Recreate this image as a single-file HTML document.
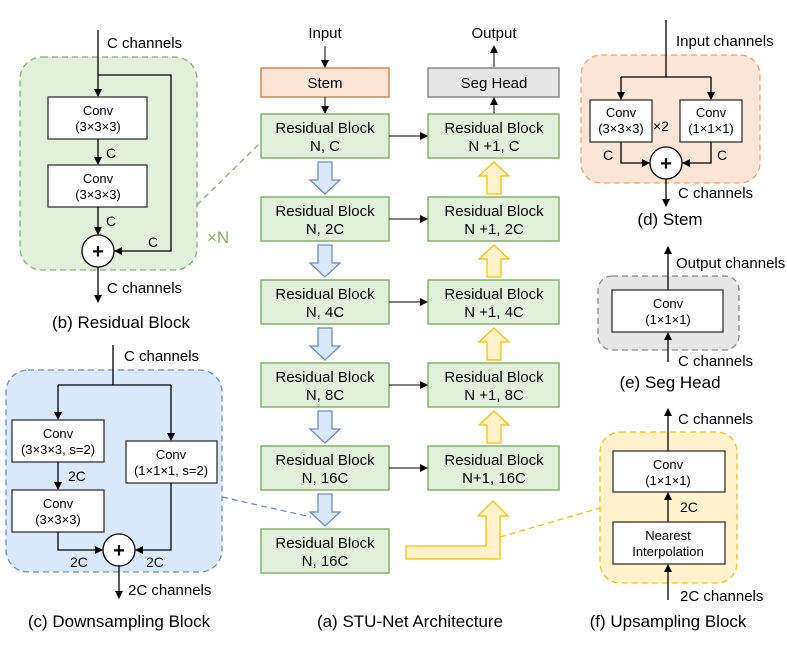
<!DOCTYPE html>
<html><head><meta charset="utf-8"><style>
html,body{margin:0;padding:0;background:#fff;}
svg{display:block;font-family:"Liberation Sans",Arial,sans-serif;}
</style></head><body>
<svg width="787" height="645" viewBox="0 0 787 645" xmlns="http://www.w3.org/2000/svg">
<defs>
<marker id="ah" markerWidth="8" markerHeight="8" refX="7" refY="4" orient="auto" markerUnits="userSpaceOnUse"><path d="M0,0 L8,4 L0,8 z" fill="#000"/></marker>
</defs>

<!-- (b) Residual Block -->
<rect x="20" y="57" width="177" height="213" rx="22" fill="#e2efda" stroke="#82b366" stroke-dasharray="6,4" stroke-width="1.3"/>
<line x1="98" y1="30" x2="98" y2="96" stroke="#000" stroke-width="1.3" marker-end="url(#ah)"/>
<polyline points="98,75 171,75 171,251 115,251" fill="none" stroke="#000" stroke-width="1.3" marker-end="url(#ah)"/>
<rect x="48" y="97" width="99" height="42" fill="#fff" stroke="#333" stroke-width="1.3"/>
<text x="98" y="115" font-size="13" text-anchor="middle">Conv</text>
<text x="98" y="131" font-size="13" text-anchor="middle">(3×3×3)</text>
<line x1="98" y1="139" x2="98" y2="164" stroke="#000" stroke-width="1.3" marker-end="url(#ah)"/>
<text x="106" y="158" font-size="14">C</text>
<rect x="48" y="165" width="99" height="42" fill="#fff" stroke="#333" stroke-width="1.3"/>
<text x="98" y="183" font-size="13" text-anchor="middle">Conv</text>
<text x="98" y="199" font-size="13" text-anchor="middle">(3×3×3)</text>
<line x1="98" y1="207" x2="98" y2="234" stroke="#000" stroke-width="1.3" marker-end="url(#ah)"/>
<text x="106" y="226" font-size="14">C</text>
<text x="148" y="247" font-size="14">C</text>
<circle cx="98" cy="251" r="16" fill="#fff" stroke="#000" stroke-width="1.3"/>
<text x="98" y="258" font-size="20" text-anchor="middle" font-weight="bold">+</text>
<line x1="98" y1="267" x2="98" y2="302" stroke="#000" stroke-width="1.3" marker-end="url(#ah)"/>
<text x="107" y="48" font-size="15">C channels</text>
<text x="107" y="293" font-size="15">C channels</text>
<text x="207" y="243" font-size="17" fill="#82b366">×N</text>
<text x="121" y="328" font-size="17" text-anchor="middle">(b) Residual Block</text>
<line x1="197" y1="205" x2="261" y2="142" stroke="#82b366" stroke-width="1.3" stroke-dasharray="6,4"/>

<!-- (c) Downsampling -->
<rect x="6" y="370" width="216" height="202" rx="22" fill="#dae8fc" stroke="#6c8ebf" stroke-dasharray="6,4" stroke-width="1.3"/>
<line x1="113" y1="345" x2="113" y2="385" stroke="#000" stroke-width="1.3"/>
<polyline points="58,385 171,385" fill="none" stroke="#000" stroke-width="1.3"/>
<line x1="58" y1="385" x2="58" y2="419" stroke="#000" stroke-width="1.3" marker-end="url(#ah)"/>
<line x1="171" y1="385" x2="171" y2="440" stroke="#000" stroke-width="1.3" marker-end="url(#ah)"/>
<rect x="12" y="420" width="92" height="42" fill="#fff" stroke="#333" stroke-width="1.3"/>
<text x="58" y="438" font-size="13" text-anchor="middle">Conv</text>
<text x="58" y="454" font-size="13" text-anchor="middle">(3×3×3, s=2)</text>
<line x1="58" y1="462" x2="58" y2="489" stroke="#000" stroke-width="1.3" marker-end="url(#ah)"/>
<text x="68" y="481" font-size="14">2C</text>
<rect x="12" y="490" width="92" height="42" fill="#fff" stroke="#333" stroke-width="1.3"/>
<text x="58" y="508" font-size="13" text-anchor="middle">Conv</text>
<text x="58" y="524" font-size="13" text-anchor="middle">(3×3×3)</text>
<rect x="126" y="441" width="91" height="42" fill="#fff" stroke="#333" stroke-width="1.3"/>
<text x="171" y="459" font-size="13" text-anchor="middle">Conv</text>
<text x="171" y="475" font-size="13" text-anchor="middle">(1×1×1, s=2)</text>
<polyline points="58,532 58,550 102,550" fill="none" stroke="#000" stroke-width="1.3" marker-end="url(#ah)"/>
<polyline points="171,483 171,550 136,550" fill="none" stroke="#000" stroke-width="1.3" marker-end="url(#ah)"/>
<circle cx="119" cy="550" r="16" fill="#fff" stroke="#000" stroke-width="1.3"/>
<text x="119" y="557" font-size="20" text-anchor="middle" font-weight="bold">+</text>
<text x="70" y="567" font-size="14">2C</text>
<text x="146" y="567" font-size="14">2C</text>
<line x1="119" y1="566" x2="119" y2="598" stroke="#000" stroke-width="1.3" marker-end="url(#ah)"/>
<text x="124" y="361" font-size="15">C channels</text>
<text x="128" y="595" font-size="15">2C channels</text>
<text x="119" y="627" font-size="17" text-anchor="middle">(c) Downsampling Block</text>
<line x1="222" y1="497" x2="311" y2="517" stroke="#6c8ebf" stroke-width="1.3" stroke-dasharray="6,4"/>

<!-- (a) main -->
<text x="325" y="38" font-size="15" text-anchor="middle">Input</text>
<line x1="325" y1="46" x2="325" y2="67" stroke="#000" stroke-width="1" marker-end="url(#ah)"/>
<rect x="261" y="68" width="128" height="29" fill="#fae5d6" stroke="#d6864a" stroke-width="1.5"/>
<text x="325" y="88" font-size="15" text-anchor="middle">Stem</text>
<line x1="325" y1="97" x2="325" y2="113" stroke="#000" stroke-width="1" marker-end="url(#ah)"/>
<text x="494" y="38" font-size="15" text-anchor="middle">Output</text>
<line x1="494" y1="67" x2="494" y2="46" stroke="#000" stroke-width="1" marker-end="url(#ah)"/>
<rect x="428" y="68" width="131" height="29" fill="#e6e6e6" stroke="#888" stroke-width="1.5"/>
<text x="494" y="88" font-size="15" text-anchor="middle">Seg Head</text>
<line x1="494" y1="114" x2="494" y2="98" stroke="#000" stroke-width="1" marker-end="url(#ah)"/>

<g font-size="15" text-anchor="middle">
<rect x="261" y="114" width="128" height="44" fill="#e2efda" stroke="#82b366" stroke-width="1.5"/>
<text x="325" y="133">Residual Block</text><text x="325" y="151">N, C</text>
<rect x="261" y="197" width="128" height="44" fill="#e2efda" stroke="#82b366" stroke-width="1.5"/>
<text x="325" y="216">Residual Block</text><text x="325" y="234">N, 2C</text>
<rect x="261" y="280" width="128" height="44" fill="#e2efda" stroke="#82b366" stroke-width="1.5"/>
<text x="325" y="299">Residual Block</text><text x="325" y="317">N, 4C</text>
<rect x="261" y="363" width="128" height="44" fill="#e2efda" stroke="#82b366" stroke-width="1.5"/>
<text x="325" y="382">Residual Block</text><text x="325" y="400">N, 8C</text>
<rect x="261" y="446" width="128" height="44" fill="#e2efda" stroke="#82b366" stroke-width="1.5"/>
<text x="325" y="465">Residual Block</text><text x="325" y="483">N, 16C</text>
<rect x="261" y="529" width="128" height="44" fill="#e2efda" stroke="#82b366" stroke-width="1.5"/>
<text x="325" y="548">Residual Block</text><text x="325" y="566">N, 16C</text>

<rect x="428" y="114" width="131" height="44" fill="#e2efda" stroke="#82b366" stroke-width="1.5"/>
<text x="494" y="133">Residual Block</text><text x="494" y="151">N +1, C</text>
<rect x="428" y="197" width="131" height="44" fill="#e2efda" stroke="#82b366" stroke-width="1.5"/>
<text x="494" y="216">Residual Block</text><text x="494" y="234">N +1, 2C</text>
<rect x="428" y="280" width="131" height="44" fill="#e2efda" stroke="#82b366" stroke-width="1.5"/>
<text x="494" y="299">Residual Block</text><text x="494" y="317">N +1, 4C</text>
<rect x="428" y="363" width="131" height="44" fill="#e2efda" stroke="#82b366" stroke-width="1.5"/>
<text x="494" y="382">Residual Block</text><text x="494" y="400">N +1, 8C</text>
<rect x="428" y="446" width="131" height="44" fill="#e2efda" stroke="#82b366" stroke-width="1.5"/>
<text x="494" y="465">Residual Block</text><text x="494" y="483">N+1, 16C</text>
</g>
<g stroke="#000" stroke-width="1">
<line x1="389" y1="136" x2="427" y2="136" marker-end="url(#ah)"/>
<line x1="389" y1="219" x2="427" y2="219" marker-end="url(#ah)"/>
<line x1="389" y1="302" x2="427" y2="302" marker-end="url(#ah)"/>
<line x1="389" y1="385" x2="427" y2="385" marker-end="url(#ah)"/>
<line x1="389" y1="468" x2="427" y2="468" marker-end="url(#ah)"/>
</g>
<g fill="#dae8fc" stroke="#6c8ebf" stroke-width="1.3">
<path d="M318,162 H332 V180 H340 L325,194 L310,180 H318 Z"/>
<path d="M318,245 H332 V263 H340 L325,277 L310,263 H318 Z"/>
<path d="M318,328 H332 V346 H340 L325,360 L310,346 H318 Z"/>
<path d="M318,411 H332 V429 H340 L325,443 L310,429 H318 Z"/>
<path d="M318,494 H332 V512 H340 L325,526 L310,512 H318 Z"/>
</g>
<g fill="#fff2cc" stroke="#f5c000" stroke-width="1.3">
<path d="M487,194 H501 V176 H509 L494,162 L479,176 H487 Z"/>
<path d="M487,277 H501 V259 H509 L494,245 L479,259 H487 Z"/>
<path d="M487,360 H501 V342 H509 L494,328 L479,342 H487 Z"/>
<path d="M487,443 H501 V425 H509 L494,411 L479,425 H487 Z"/>
<path d="M406,546 H486 V516 H478 L493,501 L508,516 H500 V559 H406 Z"/>
</g>
<line x1="500" y1="537" x2="600" y2="508" stroke="#f5c000" stroke-width="1.3" stroke-dasharray="6,4"/>
<text x="410" y="627" font-size="17" text-anchor="middle">(a) STU-Net Architecture</text>

<!-- (d) Stem -->
<rect x="581" y="55" width="179" height="128" rx="20" fill="#fae5d6" stroke="#f0a060" stroke-dasharray="6,4" stroke-width="1.3"/>
<line x1="666" y1="20" x2="666" y2="77" stroke="#000" stroke-width="1.3"/>
<polyline points="621,77 711,77" fill="none" stroke="#000" stroke-width="1.3"/>
<line x1="621" y1="77" x2="621" y2="99" stroke="#000" stroke-width="1.3" marker-end="url(#ah)"/>
<line x1="711" y1="77" x2="711" y2="99" stroke="#000" stroke-width="1.3" marker-end="url(#ah)"/>
<rect x="590" y="100" width="62" height="42" fill="#fff" stroke="#333" stroke-width="1.3"/>
<text x="621" y="117" font-size="13" text-anchor="middle">Conv</text>
<text x="621" y="133" font-size="13" text-anchor="middle">(3×3×3)</text>
<rect x="680" y="100" width="62" height="42" fill="#fff" stroke="#333" stroke-width="1.3"/>
<text x="711" y="117" font-size="13" text-anchor="middle">Conv</text>
<text x="711" y="133" font-size="13" text-anchor="middle">(1×1×1)</text>
<text x="653" y="131" font-size="14">×2</text>
<polyline points="621,142 621,163 649,163" fill="none" stroke="#000" stroke-width="1.3" marker-end="url(#ah)"/>
<polyline points="711,142 711,163 683,163" fill="none" stroke="#000" stroke-width="1.3" marker-end="url(#ah)"/>
<text x="603" y="160" font-size="14">C</text>
<text x="717" y="160" font-size="14">C</text>
<circle cx="666" cy="163" r="16" fill="#fff" stroke="#000" stroke-width="1.3"/>
<text x="666" y="170" font-size="20" text-anchor="middle" font-weight="bold">+</text>
<line x1="666" y1="179" x2="666" y2="206" stroke="#000" stroke-width="1.3" marker-end="url(#ah)"/>
<text x="676" y="46" font-size="15">Input channels</text>
<text x="678" y="198" font-size="15">C channels</text>
<text x="670" y="225" font-size="17" text-anchor="middle">(d) Stem</text>

<!-- (e) Seg Head -->
<rect x="598" y="276" width="141" height="74" rx="14" fill="#e6e6e6" stroke="#888" stroke-dasharray="6,4" stroke-width="1.3"/>
<rect x="612" y="290" width="111" height="42" fill="#fff" stroke="#333" stroke-width="1.3"/>
<text x="668" y="308" font-size="13" text-anchor="middle">Conv</text>
<text x="668" y="324" font-size="13" text-anchor="middle">(1×1×1)</text>
<line x1="668" y1="290" x2="668" y2="247" stroke="#000" stroke-width="1.3" marker-end="url(#ah)"/>
<line x1="668" y1="362" x2="668" y2="333" stroke="#000" stroke-width="1.3" marker-end="url(#ah)"/>
<text x="676" y="268" font-size="15">Output channels</text>
<text x="678" y="366" font-size="15">C channels</text>
<text x="670" y="388" font-size="17" text-anchor="middle">(e) Seg Head</text>

<!-- (f) Upsampling -->
<rect x="600" y="432" width="137" height="151" rx="20" fill="#fff2cc" stroke="#f5c000" stroke-dasharray="6,4" stroke-width="1.3"/>
<line x1="668" y1="451" x2="668" y2="409" stroke="#000" stroke-width="1.3" marker-end="url(#ah)"/>
<rect x="613" y="451" width="112" height="41" fill="#fff" stroke="#333" stroke-width="1.3"/>
<text x="668" y="469" font-size="13" text-anchor="middle">Conv</text>
<text x="668" y="485" font-size="13" text-anchor="middle">(1×1×1)</text>
<line x1="668" y1="522" x2="668" y2="493" stroke="#000" stroke-width="1.3" marker-end="url(#ah)"/>
<text x="680" y="512" font-size="14">2C</text>
<rect x="613" y="522" width="112" height="42" fill="#fff" stroke="#333" stroke-width="1.3"/>
<text x="668" y="540" font-size="13" text-anchor="middle">Nearest</text>
<text x="668" y="556" font-size="13" text-anchor="middle">Interpolation</text>
<line x1="668" y1="600" x2="668" y2="565" stroke="#000" stroke-width="1.3" marker-end="url(#ah)"/>
<text x="678" y="424" font-size="15">C channels</text>
<text x="680" y="601" font-size="15">2C channels</text>
<text x="668" y="627" font-size="17" text-anchor="middle">(f) Upsampling Block</text>
</svg>
</body></html>
